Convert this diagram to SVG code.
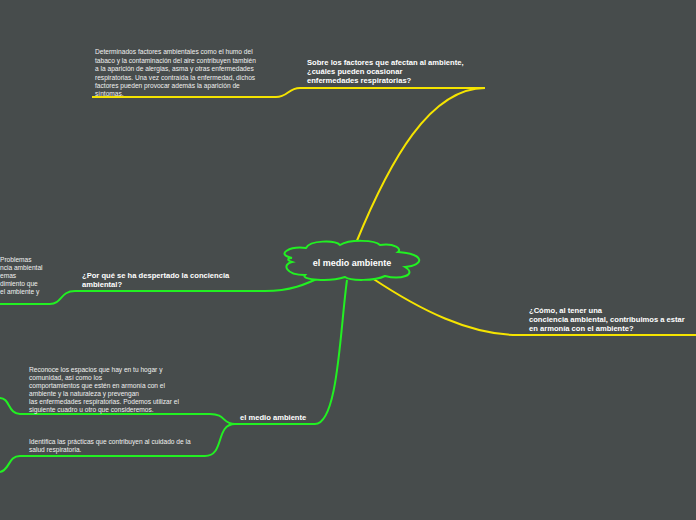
<svg xmlns="http://www.w3.org/2000/svg" width="696" height="520" viewBox="0 0 696 520">
<style>
.s{font-family:"Liberation Sans",Arial,sans-serif;font-size:6.6px;fill:#f0f0f0}
.h{font-family:"Liberation Sans",Arial,sans-serif;font-size:7.6px;font-weight:bold;fill:#ffffff}
.y{fill:none;stroke:#f5e400;stroke-width:2}
.g{fill:none;stroke:#22f022;stroke-width:2}
</style>
<rect width="696" height="520" fill="#474c4c"/>
<g id="connectors">
<path class="y" d="M356,243 C390,160 430,88 485,88 L300,88 C288,88 288,97 276,97 L92,97"/>
<path class="g" d="M325,275 C305,285 290,291 265,291 L75,291 C60,291 62,304 50,304 L0,304"/>
<path class="y" d="M372,278 C420,310 470,335 518,335 L696,335"/>
<path class="g" d="M347,280 C340,330 338,424 315,424 L235,424"/>
<path class="g" d="M235,424 C222,424 226,414 210,414 L20,414 C8,414 10,398 0,398"/>
<path class="g" d="M235,424 C215,424 225,456 205,456 L20,456 C8,456 10,470 0,472"/>
</g>
<g id="root">
<path d="M292,258 C275,254 290,246 306,248 C310,240 335,240 340,245 C350,239 375,240 380,245 C395,243 402,249 398,252 C425,254 425,265 405,267 C418,275 400,280 385,276 C375,281 350,281 345,277 C330,282 300,280 305,275 C285,275 282,264 292,262 C286,260 288,258 292,258 Z" fill="#474c4c" stroke="#22f022" stroke-width="2"/>
<text class="h" x="352" y="266" text-anchor="middle" style="font-size:9px">el medio ambiente</text>
</g>
<g id="n1"><text class="h" x="307" y="65">Sobre los factores que afectan al ambiente,</text><text class="h" x="307" y="74">¿cuáles pueden ocasionar</text><text class="h" x="307" y="83">enfermedades respiratorias?</text></g>
<g id="n1a" class="s"><text class="s" x="95" y="54">Determinados factores ambientales como el humo del</text><text class="s" x="95" y="62.5">tabaco y la contaminación del aire contribuyen también</text><text class="s" x="95" y="71">a la aparición de alergias, asma y otras enfermedades</text><text class="s" x="95" y="79.5">respiratorias. Una vez contraída la enfermedad, dichos</text><text class="s" x="95" y="88">factores pueden provocar además la aparición de</text><text class="s" x="95" y="96">síntomas.</text></g>
<g id="n2"><text class="h" x="82" y="278">¿Por qué se ha despertado la conciencia</text><text class="h" x="82" y="287">ambiental?</text></g>
<g id="n2a"><text class="s" x="0" y="262">Problemas</text><text class="s" x="0" y="270">ncia ambiental</text><text class="s" x="0" y="278">emas</text><text class="s" x="0" y="286">dimiento que</text><text class="s" x="0" y="294">el ambiente y</text></g>
<g id="n3"><text class="h" x="529" y="313">¿Cómo, al tener una</text><text class="h" x="529" y="322">conciencia ambiental, contribuimos a estar</text><text class="h" x="529" y="331">en armonía con el ambiente?</text></g>
<g id="n4"><text class="h" x="240" y="420">el medio ambiente</text></g>
<g id="n4a"><text class="s" x="29" y="372">Reconoce los espacios que hay en tu hogar y</text><text class="s" x="29" y="380">comunidad, así como los</text><text class="s" x="29" y="388">comportamientos que estén en armonía con el</text><text class="s" x="29" y="396">ambiente y la naturaleza y prevengan</text><text class="s" x="29" y="404">las enfermedades respiratorias. Podemos utilizar el</text><text class="s" x="29" y="412">siguiente cuadro u otro que consideremos.</text></g>
<g id="n4b"><text class="s" x="29" y="444">Identifica las prácticas que contribuyen al cuidado de la</text><text class="s" x="29" y="452">salud respiratoria.</text></g>
</svg>
